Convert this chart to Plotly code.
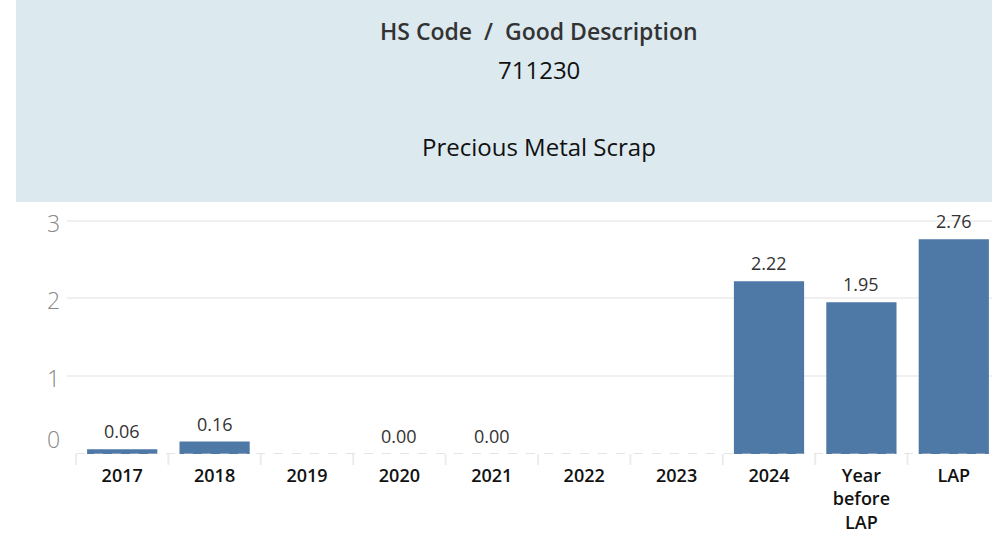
import plotly.graph_objects as go

categories = ["2017", "2018", "2019", "2020", "2021", "2022", "2023", "2024", "Year before LAP", "LAP"]
tick_labels = ["2017", "2018", "2019", "2020", "2021", "2022", "2023", "2024", "Year<br>before<br>LAP", "LAP"]
values = [0.06, 0.16, None, 0.00, 0.00, None, None, 2.22, 1.95, 2.76]
y_ticks = [0, 1, 2, 3]

header_title = "HS Code  /  Good Description"
hs_code = "711230"
good_desc = "Precious Metal Scrap"

W, H = 992, 533
L, R, T, B = 67, 0, 205, 79
PW = W - L - R
PH = H - T - B
UNIT = 77.8  # pixels per unit on the value axis


def px(x):
    return (x - L) / PW


def py(y):
    return (H - B - y) / PH


BAR = "#4e79a7"
idx = list(range(len(categories)))

fig = go.Figure()
fig.add_trace(go.Bar(
    x=idx,
    y=[v if v is not None else 0 for v in values],
    marker=dict(color=BAR, line=dict(width=0)),
    hoverinfo="skip",
))

annotations = []
for i, v in zip(idx, values):
    if v is None:
        continue
    annotations.append(dict(
        x=i, y=v, xref="x", yref="y", text=f"{v:.2f}", showarrow=False,
        yanchor="bottom", yshift=4,
        font=dict(family="Open Sans", size=18, color="#333333"),
    ))

# pixel offset (down) of each y tick label relative to its gridline
ylabel_down = {0: -15, 1: 2, 2: 2, 3: 2}
for t in y_ticks:
    annotations.append(dict(
        x=px(62), y=t, xref="paper", yref="y", text=str(t), showarrow=False,
        xanchor="right", yanchor="middle", yshift=-ylabel_down[t],
        font=dict(family="Open Sans", size=23, color="#888888", weight=300),
    ))

annotations += [
    dict(x=px(539), y=py(31), xref="paper", yref="paper", text=header_title, showarrow=False,
         xanchor="center", yanchor="middle",
         font=dict(family="Open Sans", size=23, color="#333333", weight=600)),
    dict(x=px(539), y=py(70), xref="paper", yref="paper", text=hs_code, showarrow=False,
         xanchor="center", yanchor="middle",
         font=dict(family="Open Sans", size=24, color="#111111")),
    dict(x=px(539), y=py(146), xref="paper", yref="paper", text=good_desc, showarrow=False,
         xanchor="center", yanchor="middle",
         font=dict(family="Open Sans", size=24, color="#111111")),
]

shapes = [
    dict(type="rect", xref="paper", yref="paper", x0=px(16), x1=px(W + 5), y0=py(202), y1=py(-5),
         fillcolor="#dce9ef", line=dict(width=0), layer="below"),
    dict(type="line", xref="paper", yref="y", x0=px(76), x1=1, y0=0, y1=0,
         line=dict(color="#c8c8c8", width=1, dash="dash"), layer="above"),
]

fig.update_layout(
    width=W, height=H,
    margin=dict(l=L, r=R, t=T, b=B, pad=0, autoexpand=False),
    paper_bgcolor="white", plot_bgcolor="white",
    showlegend=False,
    bargap=0.24,
    annotations=annotations,
    shapes=shapes,
    xaxis=dict(
        type="linear", automargin=False,
        tickmode="array", tickvals=idx, ticktext=tick_labels,
        range=[-0.5 - 9 / 92.4, -0.5 - 9 / 92.4 + PW / 92.4],
        ticks="", ticklabelstandoff=9,
        showgrid=False, showline=False, zeroline=False,
        tickfont=dict(family="Open Sans", size=18, color="#111111", weight=600),
        fixedrange=True,
    ),
    yaxis=dict(
        automargin=False,
        range=[0, PH / UNIT],
        tickmode="array", tickvals=y_ticks, showticklabels=False,
        showgrid=True, gridcolor="#f0f0f0", gridwidth=2,
        zeroline=False, showline=False, fixedrange=True,
    ),
)

# category separators at the boundaries between categories
for i in idx:
    fig.add_shape(type="line", xref="x", yref="paper", x0=i - 0.5, x1=i - 0.5,
                  y0=0, y1=-11 / PH, line=dict(color="#ececec", width=2))

fig.write_html("out.html", config={"displayModeBar": False},
               post_script="document.body.style.margin='0';")
